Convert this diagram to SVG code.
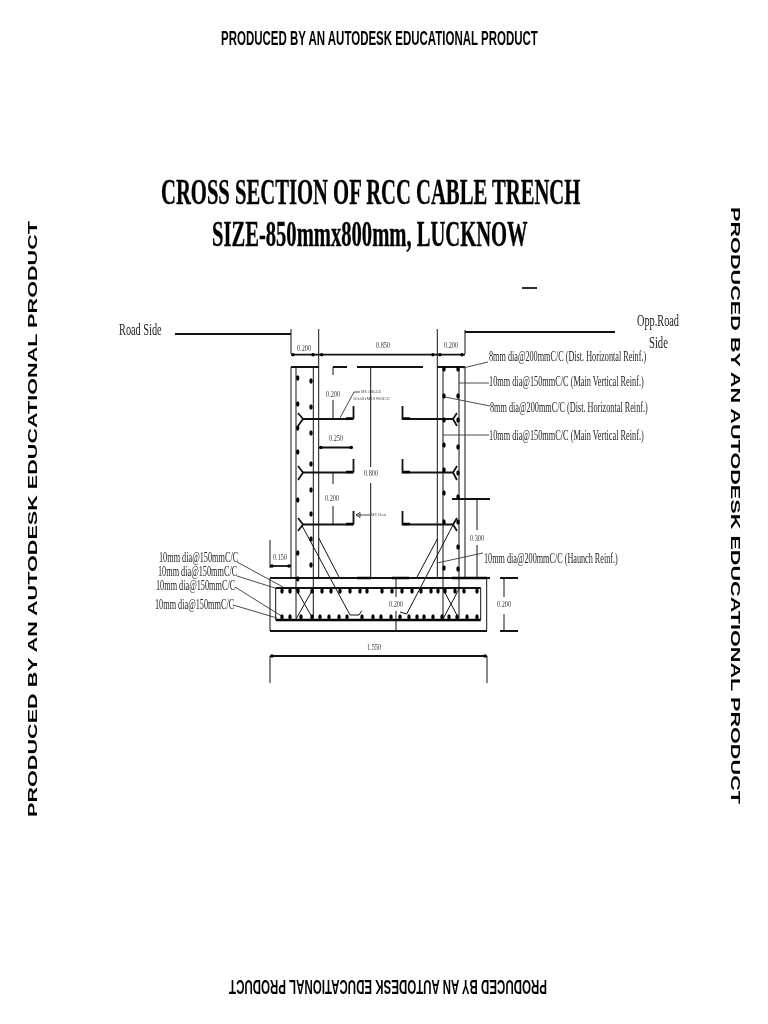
<svg xmlns="http://www.w3.org/2000/svg" width="768" height="1024" viewBox="0 0 768 1024">
<style>
.wm{font-family:"Liberation Sans",Arial,sans-serif;font-weight:bold;fill:#000;font-size:20px}
.wm2{font-family:"Liberation Sans",Arial,sans-serif;font-weight:bold;fill:#000;font-size:13.500px}
.title{font-family:"Liberation Serif","Times New Roman",serif;font-weight:bold;fill:#000;stroke:#000;stroke-width:.4;font-size:36px}
.lab{font-family:"Liberation Serif","Times New Roman",serif;fill:#222;font-size:14px}
.big{font-size:17px}
.dim{font-family:"Liberation Serif","Times New Roman",serif;fill:#333;font-size:9px}
.tiny{font-family:"Liberation Serif","Times New Roman",serif;fill:#444;font-size:5px}
.l{stroke:#111;stroke-width:1;fill:none}
.m{stroke:#111;stroke-width:1.800;fill:none}
.h{stroke:#000;stroke-width:2.600;fill:none}
.s{stroke:#333;stroke-width:.9;fill:none}
</style>
<defs>
<ellipse id="d" rx="1.700" ry="2.800" fill="#000"/>
<ellipse id="b" rx="1.700" ry="2.800" fill="#000"/>
<circle id="t" r="1.700" fill="#000"/>
</defs>
<rect width="768" height="1024" fill="#fff"/>
<g opacity=".99">
<g id="watermarks">
<text class="wm" transform="translate(221,45) scale(.6,1)" textLength="528" lengthAdjust="spacingAndGlyphs">PRODUCED BY AN AUTODESK EDUCATIONAL PRODUCT</text>
<text class="wm" transform="translate(547,980) rotate(180) scale(.6,1)" textLength="530" lengthAdjust="spacingAndGlyphs">PRODUCED BY AN AUTODESK EDUCATIONAL PRODUCT</text>
<text class="wm2" transform="translate(37,817) rotate(-90)" textLength="596" lengthAdjust="spacingAndGlyphs">PRODUCED BY AN AUTODESK EDUCATIONAL PRODUCT</text>
<text class="wm2" transform="translate(731,207) rotate(90)" textLength="597" lengthAdjust="spacingAndGlyphs">PRODUCED BY AN AUTODESK EDUCATIONAL PRODUCT</text>
</g>
<g id="titles">
<text class="title" transform="translate(161,204) scale(.7,1)" textLength="599" lengthAdjust="spacingAndGlyphs">CROSS SECTION OF RCC CABLE TRENCH</text>
<text class="title" transform="translate(212,246) scale(.7,1)" textLength="451" lengthAdjust="spacingAndGlyphs">SIZE-850mmx800mm, LUCKNOW</text>
</g>
<g id="connectors">
<path class="m" d="M522 288H537"/>
<path class="m" d="M175 334H291M465 332H615"/>
<path class="l" d="M291 329V354M318.700 329V578M437.300 329V578M465 330V354"/>
<path class="m" d="M291 354.700H465"/>
<path class="l" d="M291 367V578M296 367V618M313.300 367V618M443 367V618M459 367V618M465 367V578"/>
<path class="m" d="M291 367H318.700M333 367H347M357 367H423M437.300 367H465"/>
<path class="l" d="M333 367V375M333 400V419M333 473V484M333 506V524M370.700 368V467M370.700 483V578"/>
<path class="s" d="M340 418L354 392H360"/>
<path class="m" d="M303 419H353.500M303 472.500H353.500M303 524.500H353.500"/>
<path class="m" d="M353.500 406V419M353.500 459V472.500M353.500 511V524.500"/>
<path class="m" d="M402.500 406V419H453M402.500 459V472.500H453M402.500 511V524.500H453"/>
<path class="h" d="M346 418.500H353M346 472H353M346 524H353M403 418.500H410M403 472H410M403 524H410"/>
<path class="m" d="M298 413L303 419L298 426M298 466L303 472.500L298 480M298 518L303 524.500L298 531M457 413L453 419L457 426M457 466L453 472.500L457 480M457 518L453 524.500L457 531"/>
<path class="m" d="M319 447.500H353"/>
<path class="m" d="M270 578H490M270 631H487"/>
<path class="m" d="M275.700 588H480.700"/><path class="h" d="M275.700 620H480.700"/>
<path class="l" d="M270 578V631M486.700 578V631M275.700 588V620M480.700 588V620M396 578V597M396 611V631"/>
<path class="h" d="M357 578H371M392 578H409M452 578H487"/>
<path class="l" d="M296 589L313 619M313 589L296 619M443 589L459 619M459 589L443 619"/>
<path class="l" d="M301.700 525L350 615H359L361.700 611M318.700 538L339 577M437.300 539L417 577M453 525L406.700 614L400 612"/>
<path class="l" d="M270 540V568"/><path class="m" d="M270 566H291"/>
<path class="m" d="M452 499H490"/><path class="l" d="M477 499V530M477 545V577"/>
<path class="m" d="M500 578H518M500 631H518"/><path class="l" d="M504 578V597M504 614V631"/>
<path class="m" d="M270 656H487"/><path class="l" d="M270 656V683M487 656V683"/>
<path class="s" d="M463 368L488 362M459 383H489M445 397L490 406M443 435H489M437 563L483 553"/>
<path class="s" d="M237 562L283 587M237 576L275 588M235 587L283 617M233 605L277 618"/>
<path class="s" d="M356 515H370M356 515l4-2.500v5z"/>
<use href="#t" x="293" y="354.700"/><use href="#t" x="313" y="354.700"/><use href="#t" x="321.700" y="354.700"/><use href="#t" x="433" y="354.700"/><use href="#t" x="440" y="354.700"/><use href="#t" x="462" y="354.700"/>
<use href="#t" x="321" y="447.500"/><use href="#t" x="351" y="447.500"/><use href="#t" x="272" y="566"/><use href="#t" x="289" y="566"/><use href="#t" x="272" y="656"/><use href="#t" x="485" y="656"/>
</g>
<g id="rebar-dots">
<use href="#d" x="297.700" y="378"/><use href="#d" x="297.700" y="404"/><use href="#d" x="297.700" y="428"/><use href="#d" x="297.700" y="452"/><use href="#d" x="297.700" y="500"/><use href="#d" x="297.700" y="553"/><use href="#d" x="297.700" y="579"/>
<use href="#d" x="311" y="381"/><use href="#d" x="311" y="407"/><use href="#d" x="311" y="433"/><use href="#d" x="311" y="464"/><use href="#d" x="311" y="490"/><use href="#d" x="311" y="514"/><use href="#d" x="311" y="539"/><use href="#d" x="311" y="565"/>
<use href="#d" x="444" y="369"/><use href="#d" x="444" y="396"/><use href="#d" x="444" y="420"/><use href="#d" x="444" y="445"/><use href="#d" x="444" y="470"/><use href="#d" x="444" y="493"/><use href="#d" x="444" y="522"/><use href="#d" x="444" y="568"/>
<use href="#d" x="458" y="369"/><use href="#d" x="458" y="396"/><use href="#d" x="458" y="420"/><use href="#d" x="458" y="447"/><use href="#d" x="458" y="473"/><use href="#d" x="458" y="497"/><use href="#d" x="458" y="522"/><use href="#d" x="458" y="547"/><use href="#d" x="458" y="569"/>
<use href="#b" x="282" y="591"/><use href="#b" x="290" y="591"/><use href="#b" x="298" y="591"/><use href="#b" x="312" y="591"/><use href="#b" x="322" y="591"/><use href="#b" x="331" y="591"/><use href="#b" x="340" y="591"/><use href="#b" x="350" y="591"/><use href="#b" x="360" y="591"/><use href="#b" x="367" y="591"/><use href="#b" x="382" y="591"/><use href="#b" x="392" y="591"/><use href="#b" x="402" y="591"/><use href="#b" x="412" y="591"/><use href="#b" x="421" y="591"/><use href="#b" x="431" y="591"/><use href="#b" x="438" y="591"/><use href="#b" x="445" y="591"/><use href="#b" x="455" y="591"/><use href="#b" x="464" y="591"/><use href="#b" x="477" y="591"/>
<use href="#b" x="282" y="617"/><use href="#b" x="290" y="617"/><use href="#b" x="301" y="617"/><use href="#b" x="312" y="617"/><use href="#b" x="320" y="617"/><use href="#b" x="329" y="617"/><use href="#b" x="339" y="617"/><use href="#b" x="347" y="617"/><use href="#b" x="362" y="617"/><use href="#b" x="373" y="617"/><use href="#b" x="381" y="617"/><use href="#b" x="391" y="617"/><use href="#b" x="400" y="617"/><use href="#b" x="409" y="617"/><use href="#b" x="417" y="617"/><use href="#b" x="424" y="617"/><use href="#b" x="433" y="617"/><use href="#b" x="442" y="617"/><use href="#b" x="449" y="617"/><use href="#b" x="457" y="617"/><use href="#b" x="467" y="617"/><use href="#b" x="477" y="617"/>
</g>
<g id="dimensions">
<text class="dim" x="297" y="351" textLength="14" lengthAdjust="spacingAndGlyphs">0.200</text>
<text class="dim" x="376" y="348" textLength="14" lengthAdjust="spacingAndGlyphs">0.850</text>
<text class="dim" x="444" y="348" textLength="14" lengthAdjust="spacingAndGlyphs">0.200</text>
<text class="dim" x="326" y="397" textLength="14" lengthAdjust="spacingAndGlyphs">0.200</text>
<text class="dim" x="329" y="441" textLength="14" lengthAdjust="spacingAndGlyphs">0.250</text>
<text class="dim" x="364" y="476" textLength="14" lengthAdjust="spacingAndGlyphs">0.800</text>
<text class="dim" x="325" y="501" textLength="14" lengthAdjust="spacingAndGlyphs">0.200</text>
<text class="dim" x="273" y="560" textLength="14" lengthAdjust="spacingAndGlyphs">0.150</text>
<text class="dim" x="470" y="541" textLength="14" lengthAdjust="spacingAndGlyphs">0.300</text>
<text class="dim" x="389" y="607" textLength="14" lengthAdjust="spacingAndGlyphs">0.200</text>
<text class="dim" x="497" y="607" textLength="14" lengthAdjust="spacingAndGlyphs">0.200</text>
<text class="dim" x="367" y="650" textLength="14" lengthAdjust="spacingAndGlyphs">1.550</text>
<text class="tiny" x="361" y="393" textLength="20" lengthAdjust="spacingAndGlyphs">MS ANGLE</text>
<text class="tiny" x="353" y="400" textLength="37" lengthAdjust="spacingAndGlyphs">50x50xM10 900C/C</text>
<text class="tiny" x="371" y="516" textLength="15" lengthAdjust="spacingAndGlyphs">MS Cleat</text>
</g>
<g id="labels">
<text class="lab big" transform="translate(119,335) scale(.7,1)" textLength="61" lengthAdjust="spacingAndGlyphs">Road Side</text>
<text class="lab big" transform="translate(637,326) scale(.7,1)" textLength="60" lengthAdjust="spacingAndGlyphs">Opp.Road</text>
<text class="lab big" transform="translate(649,348) scale(.7,1)" textLength="27" lengthAdjust="spacingAndGlyphs">Side</text>
<text class="lab" transform="translate(489,361) scale(.6,1)" textLength="262" lengthAdjust="spacingAndGlyphs">8mm dia@200mmC/C (Dist. Horizontal Reinf.)</text>
<text class="lab" transform="translate(489,386) scale(.6,1)" textLength="258" lengthAdjust="spacingAndGlyphs">10mm dia@150mmC/C (Main Vertical Reinf.)</text>
<text class="lab" transform="translate(490,412) scale(.6,1)" textLength="263" lengthAdjust="spacingAndGlyphs">8mm dia@200mmC/C (Dist. Horizontal Reinf.)</text>
<text class="lab" transform="translate(489,440) scale(.6,1)" textLength="258" lengthAdjust="spacingAndGlyphs">10mm dia@150mmC/C (Main Vertical Reinf.)</text>
<text class="lab" transform="translate(484,563) scale(.6,1)" textLength="223" lengthAdjust="spacingAndGlyphs">10mm dia@200mmC/C (Haunch Reinf.)</text>
<text class="lab" transform="translate(159,562) scale(.6,1)" textLength="132" lengthAdjust="spacingAndGlyphs">10mm dia@150mmC/C</text>
<text class="lab" transform="translate(158,576) scale(.6,1)" textLength="132" lengthAdjust="spacingAndGlyphs">10mm dia@150mmC/C</text>
<text class="lab" transform="translate(156,590) scale(.6,1)" textLength="132" lengthAdjust="spacingAndGlyphs">10mm dia@150mmC/C</text>
<text class="lab" transform="translate(155,609) scale(.6,1)" textLength="132" lengthAdjust="spacingAndGlyphs">10mm dia@150mmC/C</text>
</g>
</g>
</svg>
